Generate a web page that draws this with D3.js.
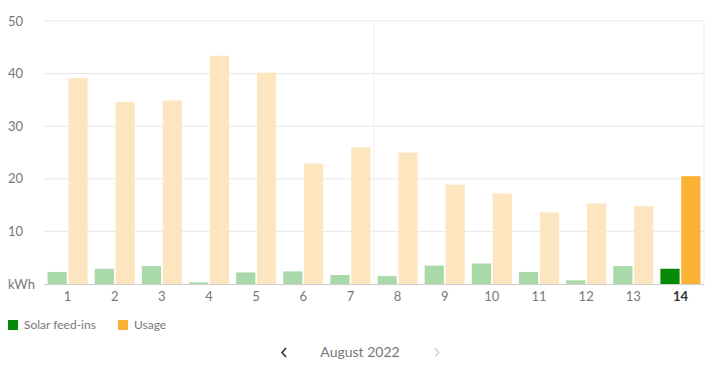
<!DOCTYPE html>
<html>
<head>
<meta charset="utf-8">
<script src="https://cdn.jsdelivr.net/npm/d3@7"></script>
<style>
  body { margin: 0; background: #fff; font-family: Lato, "Open Sans", sans-serif; }
</style>
</head>
<body>
<div id="chart"></div>
<script>
// Daily energy, August 2022
const days = ["1", "2", "3", "4", "5", "6", "7", "8", "9", "10", "11", "12", "13", "14"];
const solarFeedIns = [2.3, 2.9, 3.4, 0.3, 2.2, 2.4, 1.7, 1.5, 3.5, 3.9, 2.3, 0.7, 3.4, 2.9];
const usage = [39.1, 34.6, 34.9, 43.4, 40.2, 22.9, 26.0, 25.0, 18.9, 17.2, 13.6, 15.3, 14.8, 20.5];
const yTicks = [0, 10, 20, 30, 40, 50];
const seriesNames = ["Solar feed-ins", "Usage"];
const selectedDay = "14";
const monthLabel = "August 2022";

const W = 720, H = 365;
const margin = { top: 21, right: 16, bottom: 81, left: 44 };
const width = W - margin.left - margin.right;
const height = H - margin.top - margin.bottom;

const colors = {
    "Solar feed-ins": { light: "#a9d9a9", strong: "#058a05" },
    "Usage": { light: "#fde6bf", strong: "#fbb234" }
};

const svg = d3.select("#chart").append("svg")
    .attr("width", W).attr("height", H);

const g = svg.append("g").attr("transform", `translate(${margin.left},${margin.top})`);

const x = d3.scaleBand().domain(days).range([0, width]).paddingInner(0.15).paddingOuter(0.075);
const x1 = d3.scaleBand().domain(seriesNames).range([0, x.bandwidth()]).paddingInner(0.08);
const y = d3.scaleLinear().domain([0, 50]).range([height, 0]);

// gridlines
g.selectAll(".grid").data(yTicks.filter(d => d > 0)).join("line")
    .attr("x1", 0).attr("x2", width)
    .attr("y1", d => y(d)).attr("y2", d => y(d))
    .attr("stroke", "#e8e8e8").attr("stroke-width", 1);

// right border + middle guide
g.append("line").attr("x1", width).attr("x2", width).attr("y1", y(50)).attr("y2", height)
    .attr("stroke", "#efefef");
g.append("line")
    .attr("x1", x("8") - x.step() * x.paddingInner() / 2).attr("x2", x("8") - x.step() * x.paddingInner() / 2)
    .attr("y1", y(50)).attr("y2", height)
    .attr("stroke", "#efefef");

// y labels
g.selectAll(".ylab").data(yTicks).join("text")
    .attr("x", -36).attr("y", d => y(d)).attr("dy", "0.35em")
    .attr("fill", "#777").attr("font-size", 13)
    .text(d => d === 0 ? "kWh" : d);

// bars
const rows = days.map((d, i) => ({ day: d, values: [
    { key: "Solar feed-ins", value: solarFeedIns[i] },
    { key: "Usage", value: usage[i] }
] }));

const groups = g.selectAll(".day").data(rows).join("g")
    .attr("transform", d => `translate(${x(d.day)},0)`);

groups.selectAll("rect").data(d => d.values.map(v => ({ ...v, day: d.day }))).join("rect")
    .attr("x", d => x1(d.key))
    .attr("width", x1.bandwidth())
    .attr("y", d => y(d.value))
    .attr("height", d => y(0) - y(d.value))
    .attr("fill", d => d.day === selectedDay ? colors[d.key].strong : colors[d.key].light);

// baseline
g.append("line").attr("x1", 0).attr("x2", width).attr("y1", height + 0.5).attr("y2", height + 0.5)
    .attr("stroke", "#cfcfcf");

// x labels
g.selectAll(".xlab").data(days).join("text")
    .attr("x", d => x(d) + x.bandwidth() / 2)
    .attr("y", height + 17)
    .attr("text-anchor", "middle")
    .attr("font-size", 13)
    .attr("font-weight", d => d === selectedDay ? 700 : 400)
    .attr("fill", d => d === selectedDay ? "#333" : "#777")
    .text(d => d);

// legend
const legend = svg.selectAll(".legend").data(seriesNames).join("g")
    .attr("transform", (d, i) => `translate(${8 + i * 110},320)`);
legend.append("rect").attr("width", 10).attr("height", 10)
    .attr("fill", d => colors[d].strong);
legend.append("text").attr("x", 16).attr("y", 5).attr("dy", "0.35em")
    .attr("font-size", 12).attr("fill", "#777").text(d => d);

// month navigation
svg.append("path").attr("d", "M286,348 L282,352.5 L286,357")
    .attr("fill", "none").attr("stroke", "#333").attr("stroke-width", 1.6);
svg.append("text").attr("x", 360).attr("y", 352.5).attr("dy", "0.35em")
    .attr("text-anchor", "middle").attr("font-size", 14).attr("fill", "#777")
    .text(monthLabel);
svg.append("path").attr("d", "M435,348.5 L439,352.5 L435,356.5")
    .attr("fill", "none").attr("stroke", "#ccc").attr("stroke-width", 1.2);
</script>
</body>
</html>
